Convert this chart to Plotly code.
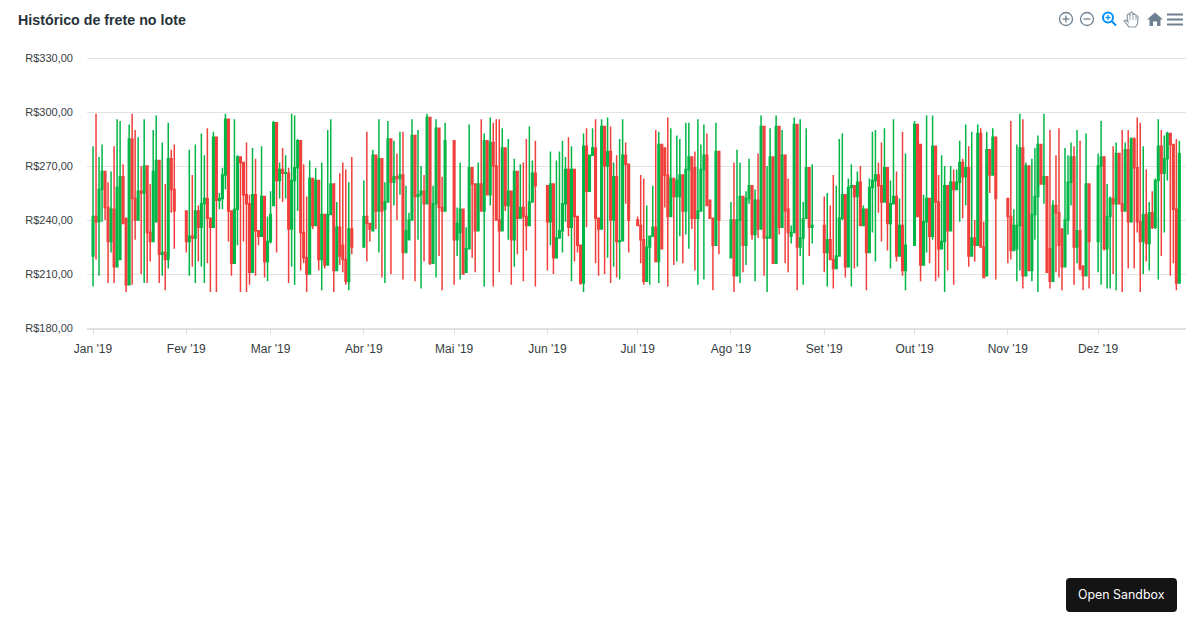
import plotly.graph_objects as go

MONTH_NUMBERS = list(range(1, 13))
DAYS_IN_MONTH_SHOWN = list(range(1, 29))
MONTH_TICK_LABELS = ["Jan '19", "Fev '19", "Mar '19", "Abr '19", "Mai '19", "Jun '19",
                     "Jul '19", "Ago '19", "Set '19", "Out '19", "Nov '19", "Dez '19"]
PRICE_TICKS = [180, 210, 240, 270, 300, 330]
PRICE_TICK_LABELS = ["R$180,00", "R$210,00", "R$240,00", "R$270,00", "R$300,00", "R$330,00"]

open_values = [
    220,242,239,257,267,247,228,246,214,218,264,241,204,285,252,240,256,255,270,233,228,239,273,221,222,218,274,257,
    245,228,231,230,245,236,249,252,241,236,286,251,252,265,296,245,216,246,275,272,254,249,211,254,234,231,253,217,
    228,248,294,262,268,266,266,235,262,269,284,233,219,210,263,237,262,218,243,215,243,260,212,236,226,218,206,235,
    225,242,238,234,276,245,274,246,250,285,261,264,263,265,222,229,240,287,253,254,256,249,297,216,249,291,247,245,
    284,229,233,246,211,224,269,260,234,260,245,284,254,283,270,240,234,280,248,256,229,267,241,247,242,237,250,266,
    259,239,260,219,230,234,249,268,236,268,242,226,205,281,256,276,280,241,235,292,270,278,240,264,228,228.5,276,271,
    240,237,229,206,225,231,236,217,282,280,265,242,263,253,253,265,245,268,275,269,241,245,268,276,251,241,226,278,
    219,240,209,240,253,226,252,259,232,251,235,292,230,230,275,216,292,236,276,246,231,233,293,225,230,241,269,236,
    237,222,229,218,213,220,241,254,214,258,259,253,261,237,246,222,258,262,265,259,250,269,238,249,253,220,237,212,
    226,293,282,215,239,252,231,281,250,224,228,259,234,261,257,261,272,264,269,220,230,226,288,225,209,279,265,286,
    252,242,223,224,237,280,209,270,212,243,253,282,260,264,224,206,248,244,235,214,240,261,275,225,234,214,209,260,
    228,270,275,224,242,252,249,277,249,245,279,239,285,269,239,228,243,227,244,236,262,281,266,274,288,282,246,205,
]
close_values = [
    242,239,257,267,247,228,246,214,258,264,238,204,285,252,240,256,255,270,233,228,267,273,221,222,218,274,257,245,
    228,231,230,245,236,249,252,241,236,286,251,252,265,296,245,216,246,275,272,254,249,211,254,234,231,253,217,228,
    243,294,262,268,266,266.2,235,262,269,284,233,219,210,263,237,262,218,243,215,243,260,212,236,220,218,206,235,225,
    242,238,235,276,245,274,245,250,285,261,264,263,265,222,234,240,287,253,254,256,249,297,216,249,291,247,245,284,
    229,238,246,210,224,269,260,234,260,245,284,254,283,270,240,234,280,248,256,229,267,241,247,242,237,250,266,259,
    239,260,219,230,234,249,268,236,268,242,226,205,281,256,276,280,241,235,292,270,278,240,264,228,228.5,276,271,240,
    237,229,206,225,231,236,217,282,224,265,242,263,253,262,265,245,268,275,241,241,245,268,276,248,241,226,278,240,
    240,209,240,253,226,252,259,232,251,235,292,230,230.5,275,216,292,236,276,245,233,233,293,225,230,240.6,269,236,237,
    222,229,218,213,220,241,254,214,258,259,253,261,237,246,222,258,262,265,259,250,269,238,249,253,220,237,212,226,
    293,242,215,239,252,231,281,250,224,228,259,234,261,257,261,272,264,269,220,230,226,288,225,208,279,265,286,252,
    242,223,237,237,280,209,270,212,243,253,282,260,264,211,206,248,244,226,214,240,261,275,225,234,213,209,260,228,
    270,275,224,242,252,249,277,249,245,279,239,285,269,239,228,243,227,244,236,262,281,266,274,288,282,246,205,277,
]
high_values = [
    281,299,275,282,267,261,267,281,296,295,271,241,293,299,290,286,270,296,270,260,290,298,273,283,260,294,279,282,
    245,279,265,282,248,288,276,291,241,289,286,255,269,299,296,245,296,276,275,272,283,254,280,274,234,281,253,242,
    256,295,294,272,280,276,269,299,298,285,284,271,253,273,263,269,262,272,243,290,296,260,250,266,272,268,261,275,
    262,289,238,279,276,296,274,261,295,285,284,277,289,289,259,244,296,287,290,270,265,299,297,259,296,291,264,294,
    284,247,272,246,236,293,269,260,272,296,288,284,297,294,296,296,291,280,285,256,274,267,271,272,285,292,273,284,
    259,278,260,273,278,284,275,286,281,268,242,226,288,291,276,291,296,241,296,292,297,292,272,276,285,296,283,271,
    242,265,263,248,231,259,290,289,282,280,297,291,263,287,285,265,294,294,275,278,296,282,293,288,251,241,294,278,
    250,272,279,272,253,256,274,259,257,277,298,292,270,291,275,298,292,290,276,263,237,297,293,296,250,291,269,271,
    253,255,248,265,259,285,288,254,263,271,259,267,270,248,246,263,289,290,272,283,291,269,262,296,267,252,289,277,
    295,293,282,254,298,252,298,281,265,276,270,259,270,268,268,284,274,293,281,289,240,293,291,239,289,279,291,286,
    252,295,246,282,299,296,272,270,274,280,287,282,299,264,290,251,276,291,235,280,276,283,281,290,284,215,288,260,
    277,295,275,260,253,281,283,277,290,283,290,286,286,297,294,281,268,250,256,263,296,290,287,289,288,282,285,284,
]
low_values = [
    203,218,209,239,240,205,222,205,214,218,238,200,204,204,229,240,210,205,205,217,228,239,205,209,201,213,244,224,
    222,209,214,205,217,214,205,216,200,236,200,246,246,257,228,209,216,226,200,228,200,204,211,209,226,231,208,206,
    227,248,222,252,250,252,205,214,204,245,212,216,200,210,235,237,212,201,213,215,243,200,212,215,211,204,201,221,
    225,217,228,234,235,222,208,205,250,210,248,240,254,207,222,229,240,206,229,202,217,249,215,216,208,220,201,245,
    204,220,207,210,211,224,219,211,234,245,203,254,248,203,240,211,234,245,229,204,214,221,241,206,223,237,250,203,
    212,226,210,219,230,222,239,231,206,217,222,204,200,236,256,276,216,209,235,210,219,205,214,208,207,228,249,222,
    237,216,204,206,204,231,217,205,224,247,203,242,215,217,231,216,232,224,235,212,204,245,207,248,241,201,226,221,
    219,200,209,205,211,215,249,229,206,230,235,209,200,230,216,216,232,236,216,211,227,233,201,220,204,241,220,227,
    211,203,218,202,213,220,240,208,214,203,213,214,237,237,201,222,233,217,244,228,250,223,213,249,217,220,209,201,
    226,242,206,215,222,216,229,206,208,224,200,212,234,204,257,239,241,248,214,220,217,226,225,208,209,255,265,207,
    216,218,223,206,212,202,209,212,206,229,200,260,249,211,202,206,211,208,201,214,232,248,204,216,212,201,209,202,
    211,204,223,202,202,210,201,249,200,245,213,239,213,233,200,210,217,212,235,235,207,220,233,262,209,216,201,205,
]

dates = [f"2019-{m:02d}-{d:02d}" for m in MONTH_NUMBERS for d in DAYS_IN_MONTH_SHOWN]
month_starts = [f"2019-{m:02d}-01" for m in MONTH_NUMBERS]

UP = "#00B746"
DOWN = "#EF403C"
GRID = "#e3e3e3"
AXIS = "#e0e0e0"
TEXT = "#373d3f"
ICON = "#6E8192"

L, R, T, B = 87, 1186, 55, 328
Y_TOP = 330 + (58 - T) / 1.8


def px(x):
    return (x - L) / (R - L)


def py(y):
    return (B - y) / (B - T)


def circle(cx, cy, r, color, width=1.3):
    return dict(type="circle", xref="paper", yref="paper", x0=px(cx - r), x1=px(cx + r),
                y0=py(cy - r), y1=py(cy + r), line=dict(color=color, width=width))


def seg(x0, y0, x1, y1, color, width=1.3):
    return dict(type="line", xref="paper", yref="paper", x0=px(x0), y0=py(y0), x1=px(x1), y1=py(y1),
                line=dict(color=color, width=width))


def poly(points, fill, line=None, width=1.2):
    d = "M " + " L ".join(f"{px(x):.5f},{py(y):.5f}" for x, y in points) + " Z"
    return dict(type="path", xref="paper", yref="paper", path=d,
                fillcolor=fill, line=dict(color=line or fill, width=width if line else 0))


BLUE = "#008FFB"
HAND = "#8a99a6"
shapes = [
    circle(1066, 19, 6.5, ICON), seg(1062.5, 19, 1069.5, 19, ICON), seg(1066, 15.5, 1066, 22.5, ICON),
    circle(1087, 19, 6.5, ICON), seg(1083.5, 19, 1090.5, 19, ICON),
    circle(1108, 17.5, 5, BLUE, 2), seg(1105.5, 17.5, 1110.5, 17.5, BLUE, 1.3), seg(1108, 15, 1108, 20, BLUE, 1.3),
    seg(1112, 21.5, 1116, 25.5, BLUE, 2),
    poly([(1124, 21), (1126, 20), (1128, 22), (1127, 15), (1128.5, 14), (1130, 15), (1130, 13), (1131.5, 12),
          (1133, 13), (1133, 14.5), (1134.5, 14), (1136, 15), (1136, 16), (1137.5, 16), (1138, 17), (1137.5, 24),
          (1135.5, 27), (1129, 27)], "#ffffff", HAND, 1.2),
    seg(1130, 15, 1130, 20, HAND, 0.9), seg(1133, 14, 1133, 20, HAND, 0.9), seg(1136, 16, 1136, 20, HAND, 0.9),
    poly([(1147, 19.5), (1155, 12.5), (1163, 19.5), (1160.5, 19.5), (1160.5, 26), (1157, 26), (1157, 21.5),
          (1153, 21.5), (1153, 26), (1149.5, 26), (1149.5, 19.5)], ICON),
    seg(1167, 14.5, 1183, 14.5, ICON, 2), seg(1167, 19.5, 1183, 19.5, ICON, 2), seg(1167, 24.5, 1183, 24.5, ICON, 2),
]

bx0, bx1, by0, by1, rad = 1066, 1177, 578, 612, 4
shapes.append(dict(
    type="path", xref="paper", yref="paper", fillcolor="#141414", line=dict(width=0),
    path=(f"M {px(bx0+rad):.5f},{py(by0):.5f} L {px(bx1-rad):.5f},{py(by0):.5f} "
          f"Q {px(bx1):.5f},{py(by0):.5f} {px(bx1):.5f},{py(by0+rad):.5f} "
          f"L {px(bx1):.5f},{py(by1-rad):.5f} Q {px(bx1):.5f},{py(by1):.5f} {px(bx1-rad):.5f},{py(by1):.5f} "
          f"L {px(bx0+rad):.5f},{py(by1):.5f} Q {px(bx0):.5f},{py(by1):.5f} {px(bx0):.5f},{py(by1-rad):.5f} "
          f"L {px(bx0):.5f},{py(by0+rad):.5f} Q {px(bx0):.5f},{py(by0):.5f} {px(bx0+rad):.5f},{py(by0):.5f} Z"),
))

fig = go.Figure(go.Candlestick(
    x=dates, open=open_values, high=high_values, low=low_values, close=close_values,
    increasing=dict(line=dict(color=UP, width=1.5), fillcolor=UP),
    decreasing=dict(line=dict(color=DOWN, width=1.5), fillcolor=DOWN),
    whiskerwidth=0, showlegend=False,
))

fig.update_layout(
    width=1200, height=630,
    margin=dict(l=L, r=1200 - R, t=T, b=630 - B, pad=0),
    paper_bgcolor="#ffffff", plot_bgcolor="#ffffff",
    font=dict(family="Liberation Sans, Arial, sans-serif", size=12, color=TEXT),
    boxgap=0.25,
    title=dict(text="<b>Histórico de frete no lote</b>", xref="container", yref="container",
               x=18 / 1200, xanchor="left", y=1 - 20 / 630, yanchor="middle",
               font=dict(family="Liberation Sans, Arial, sans-serif", size=14.25, color="#263238")),
    xaxis=dict(
        type="date", range=["2018-12-30 00:00", "2019-12-30 05:00"],
        rangeslider=dict(visible=False),
        tickmode="array", tickvals=month_starts, ticktext=MONTH_TICK_LABELS, tickangle=0,
        ticks="outside", ticklen=5, tickcolor=AXIS, tickwidth=1, ticklabelstandoff=4,
        tickfont=dict(size=12, color=TEXT), showgrid=False,
        showline=True, linecolor=AXIS, linewidth=1.5, zeroline=False, fixedrange=True,
    ),
    yaxis=dict(
        range=[180, Y_TOP], tickmode="array", tickvals=PRICE_TICKS, ticktext=PRICE_TICK_LABELS,
        ticks="", tickfont=dict(size=11, color=TEXT), ticklabelstandoff=13,
        showgrid=True, gridcolor=GRID, gridwidth=1, showline=False, zeroline=False, fixedrange=True,
    ),
    shapes=shapes,
    annotations=[dict(
        text="Open Sandbox", xref="paper", yref="paper", x=px(1121.5), y=py(594.5),
        showarrow=False, xanchor="center", yanchor="middle",
        font=dict(family="Inter, Roboto, sans-serif", size=12.4, color="#ffffff"),
    )],
)

fig.write_html("out.html", config=dict(displayModeBar=False),
               post_script="document.body.style.margin='0';document.body.style.overflow='hidden';")
